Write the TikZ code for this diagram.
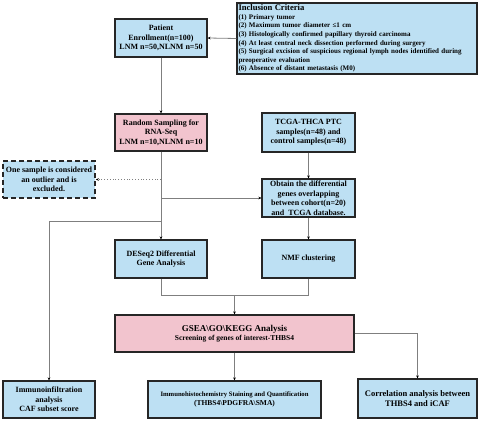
\documentclass[tikz,border=0pt]{standalone}
\usepackage{fontspec}
\setmainfont{Liberation Serif}
\usetikzlibrary{arrows.meta}
\definecolor{bluefill}{HTML}{BDE0F3}
\definecolor{pinkfill}{HTML}{F2C4CE}
\definecolor{linegray}{HTML}{7F7F7F}
\tikzset{
  box/.style={draw=black!85, line width=1.2pt, fill=bluefill, align=center, inner sep=1pt,
    font=\bfseries\fontsize{8}{9.5}\selectfont},
  pinkbox/.style={box, fill=pinkfill},
  conn/.style={draw=linegray, line width=0.8pt},
  arr/.style={conn, -{Stealth[black, length=3pt, width=2.6pt]}},
  dotarr/.style={draw=linegray, line width=0.8pt, dotted, -{Stealth[black, length=3pt, width=2.6pt]}}
}
\begin{document}
\begin{tikzpicture}[x=1pt,y=-1pt]
\useasboundingbox (0,0) rectangle (480,422);
\node[box, minimum width=92pt, minimum height=38pt] (patient) at (161,38) {Patient\\Enrollment(n=100)\\LNM n=50,NLNM n=50};
\node[box, minimum width=240pt, minimum height=71pt, text width=237pt, align=left, inner sep=1.5pt,
  font=\bfseries\fontsize{7.0}{8.6}\selectfont] (incl) at (357,38.5)
  {{\fontsize{8.6}{9.4}\selectfont Inclusion Criteria}\\
   (1) Primary tumor\\
   (2) Maximum tumor diameter ≤1 cm\\
   (3) Histologically confirmed papillary thyroid carcinoma\\
   (4) At least central neck dissection performed during surgery\\
   (5) Surgical excision of suspicious regional lymph nodes identified during\\
   preoperative evaluation\\
   (6) Absence of distant metastasis (M0)};
\node[pinkbox, minimum width=92pt, minimum height=37pt] (random) at (161,132.5) {Random Sampling for\\RNA-Seq\\LNM n=10,NLNM n=10};
\node[box, minimum width=93pt, minimum height=39pt] (tcga) at (308.5,132.5) {TCGA-THCA PTC\\samples(n=48) and\\control samples(n=48)};
\node[box, dashed, dash pattern=on 5pt off 3pt, line width=1.6pt, minimum width=92pt, minimum height=37pt] (outlier) at (49,179.5) {One sample is considered\\an outlier and is\\excluded.};
\node[box, minimum width=93pt, minimum height=38pt] (obtain) at (308.5,198) {Obtain the differential\\genes overlapping\\between cohort(n=20)\\and~ TCGA database.};
\node[box, minimum width=92pt, minimum height=38pt] (deseq) at (161,259) {DESeq2 Differential\\Gene Analysis};
\node[box, minimum width=93pt, minimum height=38pt] (nmf) at (308.5,259) {NMF clustering};
\node[pinkbox, minimum width=239pt, minimum height=37pt] (gsea) at (234.5,333.5) {{\fontsize{9}{12}\selectfont GSEA\textbackslash GO\textbackslash KEGG Analysis}\\{\fontsize{7.5}{9}\selectfont Screening of genes of interest-THBS4}};
\node[box, minimum width=92pt, minimum height=37pt] (immuno) at (49,399.5) {Immunoinfiltration\\analysis\\CAF subset score};
\node[box, minimum width=173pt, minimum height=37pt, font=\bfseries\fontsize{6.7}{9.5}\selectfont] (ihc) at (234.5,399.5) {Immunohistochemistry Staining and Quantification\\{\fontsize{7.5}{9}\selectfont (THBS4\textbackslash PDGFRA\textbackslash SMA)}};
\node[box, minimum width=119pt, minimum height=39pt, font=\bfseries\fontsize{8.5}{10.5}\selectfont] (corr) at (417.5,398.5) {Correlation analysis between\\THBS4 and iCAF};
% connectors
\draw[arr] (incl.west) -- (patient.east);
\draw[arr] (patient.south) -- (random.north);
\draw[arr] (random.south) -- (deseq.north);
\coordinate (d1) at (random.south |- outlier.east);
\draw[dotarr] (d1) -- (outlier.east);
\coordinate (d2) at (random.south |- obtain.west);
\draw[arr] (d2) -- (obtain.west);
\coordinate (j1) at (161,221);
\draw[arr] (j1) -| (immuno.north);
\draw[arr] (tcga.south) -- (obtain.north);
\draw[arr] (obtain.south) -- (nmf.north);
\coordinate (m) at (234.5,295);
\draw[conn] (deseq.south) |- (m);
\draw[conn] (nmf.south) |- (m);
\draw[arr] (m) -- (gsea.north);
\draw[arr] (gsea.south) -- (ihc.north);
\draw[arr] (gsea.east) -| (corr.north);
\end{tikzpicture}
\end{document}
